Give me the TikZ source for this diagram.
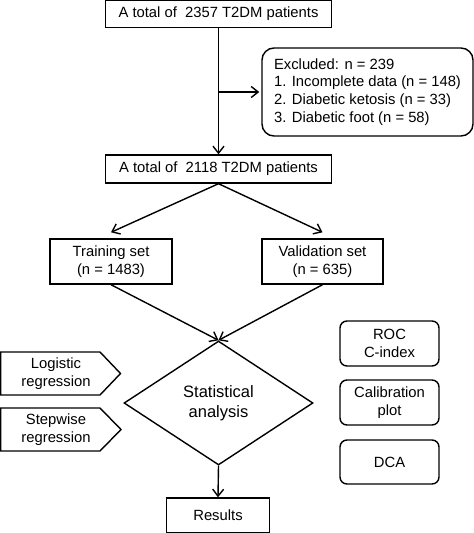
\documentclass[tikz,border=0pt]{standalone}
\usepackage{fontspec}
\setmainfont{Liberation Sans}
\usetikzlibrary{arrows.meta,shapes.geometric}

\begin{document}
\begin{tikzpicture}[x=1pt,y=-1pt,
	font=\fontsize{14.8}{17.8}\selectfont,
	line width=1.4pt,
	kasten/.style={draw, rectangle, inner sep=0pt, align=center},
	rundkasten/.style={kasten, rounded corners=7pt},
	pfeil/.style={-{Straight Barb[length=7pt,width=11pt]}}]
	\useasboundingbox (0,0) rectangle (474,533);
	% Obere Kaesten
	\node[kasten, minimum width=226, minimum height=27] (gesamt) at (218.5,14) {A total of\ \ 2357 T2DM patients};
	\node[rundkasten, rounded corners=12pt, minimum width=211, minimum height=88, align=left] (excl) at (367.5,92) {Excluded: n = 239\\1. Incomplete data (n = 148)\\2. Diabetic ketosis (n = 33)\\3. Diabetic foot (n = 58)};
	\node[kasten, minimum width=226, minimum height=28] (rest) at (218.5,169) {A total of\ \ 2118 T2DM patients};
	% Aufteilung
	\node[kasten, minimum width=122, minimum height=45] (train) at (111,261.5) {Training set\\(n = 1483)};
	\node[kasten, minimum width=121, minimum height=45] (valid) at (322.5,261.5) {Validation set\\(n = 635)};
	% Analyse
	\node[draw, diamond, minimum width=189, minimum height=124, inner sep=0pt, align=center, font=\fontsize{16.5}{20.5}\selectfont] (analyse) at (218.5,403) {Statistical\\analysis};
	\node[kasten, minimum width=103, minimum height=35] (ergebnis) at (218,515.5) {Results};
	% Linke Pfeilkaesten
	\draw (0.7,352) -- (100,352) -- (120.5,373.5) -- (100,395) -- (0.7,395) -- cycle;
	\node[align=center] (logit) at (56,374) {Logistic\\regression};
	\draw (0.7,408) -- (100,408) -- (121,429.5) -- (100,451) -- (0.7,451) -- cycle;
	\node[align=center] (schritt) at (56,430) {Stepwise\\regression};
	% Rechte Kaesten
	\node[rundkasten, minimum width=99, minimum height=45] (roc) at (389.5,343.5) {ROC\\C-index};
	\node[rundkasten, minimum width=99, minimum height=45] (kalib) at (389.5,402.5) {Calibration\\plot};
	\node[rundkasten, minimum width=99, minimum height=44] (dca) at (389.5,462) {DCA};
	% Pfeile
	\draw[pfeil] (gesamt.south) -- (rest.north);
	\coordinate (abzw) at (gesamt.south |- excl.west);
	\draw[pfeil] (abzw) -- ([xshift=-2pt]excl.west);
	\draw[pfeil] (rest.south) -- ([yshift=6pt]train.north);
	\draw[pfeil] (rest.south) -- ([yshift=6pt]valid.north);
	\draw[pfeil] (train.south) -- (analyse.north);
	\draw[pfeil] (valid.south) -- (analyse.north);
	\draw[pfeil] (analyse.south) -- (ergebnis.north);
\end{tikzpicture}
\end{document}
